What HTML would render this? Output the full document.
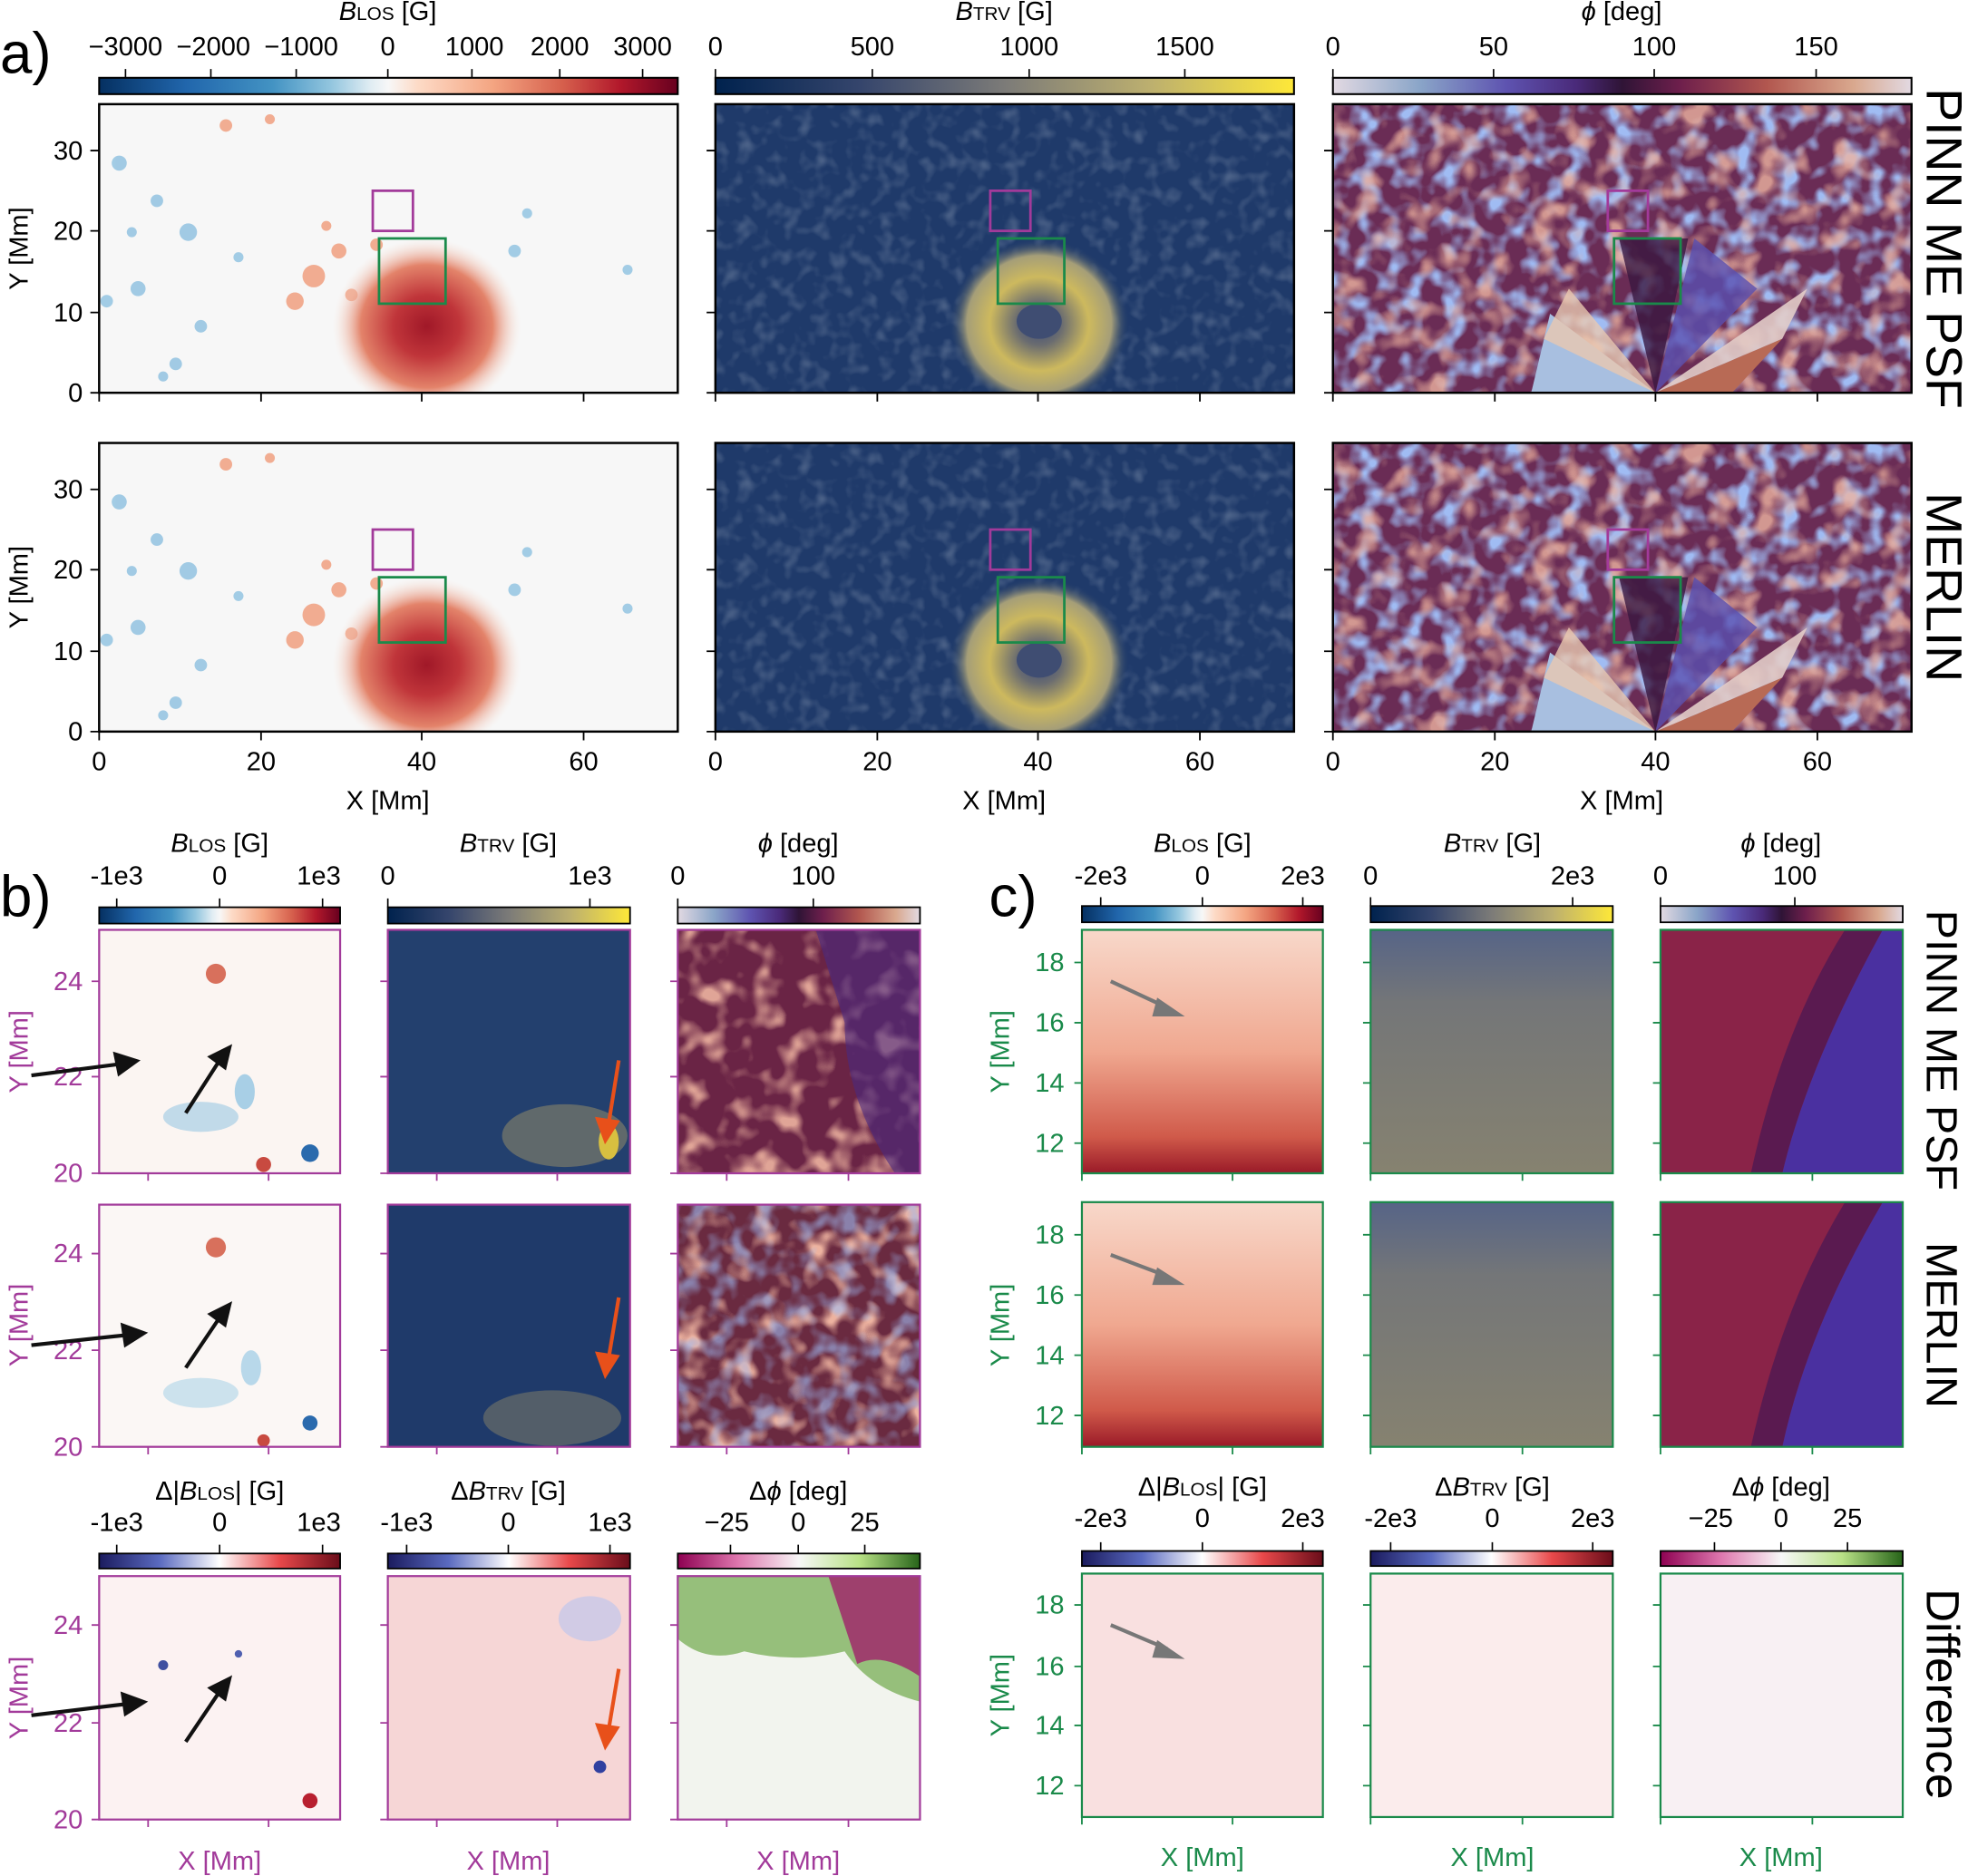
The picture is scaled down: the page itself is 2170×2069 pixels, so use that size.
<!DOCTYPE html>
<html><head><meta charset="utf-8"><style>html,body{margin:0;padding:0;background:#fff}svg{display:block}text{font-family:"Liberation Sans","DejaVu Sans",sans-serif}</style></head><body>
<svg width="2170" height="2069" viewBox="0 0 1568 1495" xmlns="http://www.w3.org/2000/svg">
<defs>
<clipPath id="ca"><rect x="79" y="83" width="1444" height="230"/></clipPath>
<linearGradient id="rdbu"><stop offset="0" stop-color="#053061"/><stop offset=".15" stop-color="#2166ac"/><stop offset=".3" stop-color="#4393c3"/><stop offset=".4" stop-color="#92c5de"/><stop offset=".47" stop-color="#e1edf3"/><stop offset=".5" stop-color="#f7f7f7"/><stop offset=".55" stop-color="#fddbc7"/><stop offset=".68" stop-color="#f4a582"/><stop offset=".8" stop-color="#d6604d"/><stop offset=".9" stop-color="#b2182b"/><stop offset="1" stop-color="#67001f"/></linearGradient>
<linearGradient id="civ"><stop offset="0" stop-color="#00224e"/><stop offset=".25" stop-color="#35456c"/><stop offset=".5" stop-color="#7c7b78"/><stop offset=".75" stop-color="#bcaf6f"/><stop offset="1" stop-color="#fee838"/></linearGradient>
<linearGradient id="twi"><stop offset="0" stop-color="#e2d9e2"/><stop offset=".15" stop-color="#8aa5c8"/><stop offset=".3" stop-color="#5e53b0"/><stop offset=".42" stop-color="#4a2a7a"/><stop offset=".5" stop-color="#2f1436"/><stop offset=".6" stop-color="#6e1f4c"/><stop offset=".75" stop-color="#b2574f"/><stop offset=".9" stop-color="#d9a88e"/><stop offset="1" stop-color="#e2d9e2"/></linearGradient>
<linearGradient id="bwr"><stop offset="0" stop-color="#1b1b5e"/><stop offset=".25" stop-color="#5a6ac0"/><stop offset=".5" stop-color="#ffffff"/><stop offset=".75" stop-color="#e8484a"/><stop offset="1" stop-color="#6a0d1a"/></linearGradient>
<linearGradient id="piyg"><stop offset="0" stop-color="#8e0152"/><stop offset=".25" stop-color="#de77ae"/><stop offset=".5" stop-color="#f7f7f7"/><stop offset=".75" stop-color="#b8e186"/><stop offset="1" stop-color="#276419"/></linearGradient>
<radialGradient id="spotLos" cx=".5" cy=".5" r=".5"><stop offset="0" stop-color="#a01828"/><stop offset=".35" stop-color="#c0353a"/><stop offset=".7" stop-color="#e3836a"/><stop offset="1" stop-color="#f7e0d4" stop-opacity="0"/></radialGradient>
<radialGradient id="spotTrv" cx=".5" cy=".5" r=".5"><stop offset="0" stop-color="#3a4a78"/><stop offset=".25" stop-color="#6a6c70"/><stop offset=".55" stop-color="#cdb95e"/><stop offset=".8" stop-color="#a59e78"/><stop offset="1" stop-color="#1f3a6a" stop-opacity="0"/></radialGradient>
<linearGradient id="cLos" x1="0" y1="0" x2="0" y2="1"><stop offset="0" stop-color="#f8d8ca"/><stop offset=".5" stop-color="#f0a890"/><stop offset=".85" stop-color="#d05a4a"/><stop offset="1" stop-color="#9a1a28"/></linearGradient>
<linearGradient id="cTrv" x1="0" y1="0" x2="0" y2="1"><stop offset="0" stop-color="#566487"/><stop offset=".3" stop-color="#747678"/><stop offset="1" stop-color="#868270"/></linearGradient>
<filter id="noise" x="0" y="0" width="100%" height="100%"><feTurbulence type="fractalNoise" baseFrequency="0.06" numOctaves="2" seed="3"/><feColorMatrix type="matrix" values="0 0 0 0 0.35  0 0 0 0 0.5  0 0 0 0 0.9  0 0 3.5 0 -1.6"/></filter>
<filter id="noise2" x="0" y="0" width="100%" height="100%"><feTurbulence type="fractalNoise" baseFrequency="0.05" numOctaves="2" seed="9"/><feColorMatrix type="matrix" values="0 0 0 0 0.85  0 0 0 0 0.45  0 0 0 0 0.35  0 0 3.5 0 -1.7"/></filter>
<filter id="noiseT" x="0" y="0" width="100%" height="100%"><feTurbulence type="fractalNoise" baseFrequency="0.08" numOctaves="2" seed="5"/><feColorMatrix type="matrix" values="0 0 0 0 0.45  0 0 0 0 0.52  0 0 0 0 0.62  0 0 2.5 0 -1.2"/></filter>
</defs>

<!-- ===== a) ===== -->
<text x="0" y="58" font-size="46">a)</text>
<rect x="79" y="62" width="461" height="13" fill="url(#rdbu)" stroke="#000" stroke-width="1.5"/>
<rect x="570" y="62" width="461" height="13" fill="url(#civ)" stroke="#000" stroke-width="1.5"/>
<rect x="1062" y="62" width="461" height="13" fill="url(#twi)" stroke="#000" stroke-width="1.5"/>
<g stroke="#000" stroke-width="1.2">
<path d="M100 55v7M168 55v7M236 55v7M309 55v7M376 55v7M446 55v7M512 55v7M570 55v7M695 55v7M820 55v7M944 55v7M1062 55v7M1190 55v7M1318 55v7M1447 55v7"/>
</g>
<g font-size="21" text-anchor="middle">
<text x="100" y="44">−3000</text><text x="170" y="44">−2000</text><text x="240" y="44">−1000</text><text x="309" y="44">0</text><text x="378" y="44">1000</text><text x="446" y="44">2000</text><text x="512" y="44">3000</text>
<text x="570" y="44">0</text><text x="695" y="44">500</text><text x="820" y="44">1000</text><text x="944" y="44">1500</text>
<text x="1062" y="44">0</text><text x="1190" y="44">50</text><text x="1318" y="44">100</text><text x="1447" y="44">150</text>
</g>
<g font-size="21" text-anchor="middle">
<text x="309" y="16"><tspan font-style="italic">B</tspan><tspan font-size="15">LOS</tspan> [G]</text>
<text x="800" y="16"><tspan font-style="italic">B</tspan><tspan font-size="15">TRV</tspan> [G]</text>
<text x="1292" y="16"><tspan font-style="italic">ϕ</tspan> [deg]</text>
</g>

<g id="arow" clip-path="url(#ca)">
<rect x="79" y="83" width="461" height="230" fill="#f7f7f7"/>
<g fill="#8cc0e0" opacity=".8"><circle cx="95" cy="130" r="6"/><circle cx="125" cy="160" r="5"/><circle cx="150" cy="185" r="7"/><circle cx="110" cy="230" r="6"/><circle cx="160" cy="260" r="5"/><circle cx="140" cy="290" r="5"/><circle cx="410" cy="200" r="5"/><circle cx="500" cy="215" r="4"/><circle cx="85" cy="240" r="5"/><circle cx="105" cy="185" r="4"/><circle cx="190" cy="205" r="4"/><circle cx="420" cy="170" r="4"/><circle cx="130" cy="300" r="4"/></g>
<g fill="#f0a080" opacity=".85"><circle cx="250" cy="220" r="9"/><circle cx="235" cy="240" r="7"/><circle cx="270" cy="200" r="6"/><circle cx="180" cy="100" r="5"/><circle cx="215" cy="95" r="4"/><circle cx="300" cy="195" r="5"/><circle cx="280" cy="235" r="5"/><circle cx="260" cy="180" r="4"/></g>
<ellipse cx="340" cy="260" rx="75" ry="70" fill="url(#spotLos)"/>
<rect x="570" y="83" width="461" height="230" fill="#1f3a6a"/>
<rect x="570" y="83" width="461" height="230" filter="url(#noiseT)" opacity=".3"/>
<ellipse cx="828" cy="258" rx="72" ry="68" fill="url(#spotTrv)"/>
<ellipse cx="828" cy="256" rx="18" ry="14" fill="#3f4d72"/>
<rect x="1062" y="83" width="461" height="230" fill="#6a2c55"/>
<rect x="1062" y="83" width="461" height="230" filter="url(#noise)"/>
<rect x="1062" y="83" width="461" height="230" filter="url(#noise2)" opacity=".8"/>
<path d="M1319 313 L1220 313 L1235 250 L1319 313Z" fill="#a8bfe0"/>
<path d="M1319 313 L1230 270 L1250 230Z" fill="#e8c8b0" opacity=".8"/>
<path d="M1319 313 L1380 313 L1420 270 Z" fill="#b86a55"/>
<path d="M1319 313 L1420 270 L1440 230 Z" fill="#e2ccc8" opacity=".9"/>
<path d="M1319 313 L1290 190 L1345 190 Z" fill="#3a1840" opacity=".8"/>
<path d="M1319 313 L1350 190 L1400 230 Z" fill="#5a50b0" opacity=".8"/>
</g>
<use href="#arow" transform="translate(0,270)"/>
<g fill="none" stroke="#000" stroke-width="1.8">
<rect x="79" y="83" width="461" height="230"/><rect x="570" y="83" width="461" height="230"/><rect x="1062" y="83" width="461" height="230"/>
<rect x="79" y="353" width="461" height="230"/><rect x="570" y="353" width="461" height="230"/><rect x="1062" y="353" width="461" height="230"/>
</g>
<g fill="none" stroke-width="2">
<g stroke="#a23a9a"><rect x="297" y="152" width="32" height="32"/><rect x="789" y="152" width="32" height="32"/><rect x="1281" y="152" width="32" height="32"/><rect x="297" y="422" width="32" height="32"/><rect x="789" y="422" width="32" height="32"/><rect x="1281" y="422" width="32" height="32"/></g>
<g stroke="#1a8a4a"><rect x="302" y="190" width="53" height="52"/><rect x="795" y="190" width="53" height="52"/><rect x="1286" y="190" width="53" height="52"/><rect x="302" y="460" width="53" height="52"/><rect x="795" y="460" width="53" height="52"/><rect x="1286" y="460" width="53" height="52"/></g>
</g>
<g stroke="#000" stroke-width="1.3">
<path d="M72 313h7M72 249h7M72 184h7M72 120h7M72 583h7M72 519h7M72 454h7M72 390h7"/>
<path d="M563 313h7M563 249h7M563 184h7M563 120h7M563 583h7M563 519h7M563 454h7M563 390h7"/>
<path d="M1055 313h7M1055 249h7M1055 184h7M1055 120h7M1055 583h7M1055 519h7M1055 454h7M1055 390h7"/>
<path d="M79 313v7M208 313v7M336 313v7M465 313v7M570 313v7M699 313v7M827 313v7M956 313v7M1062 313v7M1191 313v7M1319 313v7M1448 313v7"/>
<path d="M79 583v7M208 583v7M336 583v7M465 583v7M570 583v7M699 583v7M827 583v7M956 583v7M1062 583v7M1191 583v7M1319 583v7M1448 583v7"/>
</g>
<g font-size="21" text-anchor="end">
<text x="66" y="320">0</text><text x="66" y="256">10</text><text x="66" y="191">20</text><text x="66" y="127">30</text>
<text x="66" y="590">0</text><text x="66" y="526">10</text><text x="66" y="461">20</text><text x="66" y="397">30</text>
</g>
<g font-size="21" text-anchor="middle">
<text x="79" y="614">0</text><text x="208" y="614">20</text><text x="336" y="614">40</text><text x="465" y="614">60</text>
<text x="570" y="614">0</text><text x="699" y="614">20</text><text x="827" y="614">40</text><text x="956" y="614">60</text>
<text x="1062" y="614">0</text><text x="1191" y="614">20</text><text x="1319" y="614">40</text><text x="1448" y="614">60</text>
<text x="309" y="645">X [Mm]</text><text x="800" y="645">X [Mm]</text><text x="1292" y="645">X [Mm]</text>
<text transform="translate(22,198) rotate(-90)">Y [Mm]</text>
<text transform="translate(22,468) rotate(-90)">Y [Mm]</text>
</g>
<g text-anchor="middle">
<text transform="translate(1535,198) rotate(90)" font-size="40">PINN ME PSF</text>
<text transform="translate(1535,468) rotate(90)" font-size="40">MERLIN</text>
<text transform="translate(1535,837) rotate(90)" font-size="35">PINN ME PSF</text>
<text transform="translate(1535,1056) rotate(90)" font-size="35">MERLIN</text>
<text transform="translate(1535,1350) rotate(90)" font-size="37">Difference</text>
</g>

<!-- ===== b) c) ===== -->
<text x="0" y="730" font-size="46">b)</text>
<text x="788" y="730" font-size="46">c)</text>
<rect x="79" y="723" width="192" height="13" fill="url(#rdbu)" stroke="#000" stroke-width="1.3"/>
<rect x="309" y="723" width="193" height="13" fill="url(#civ)" stroke="#000" stroke-width="1.3"/>
<rect x="540" y="723" width="193" height="13" fill="url(#twi)" stroke="#000" stroke-width="1.3"/>
<rect x="862" y="722" width="192" height="13" fill="url(#rdbu)" stroke="#000" stroke-width="1.3"/>
<rect x="1092" y="722" width="193" height="13" fill="url(#civ)" stroke="#000" stroke-width="1.3"/>
<rect x="1323" y="722" width="193" height="13" fill="url(#twi)" stroke="#000" stroke-width="1.3"/>
<rect x="79" y="1238" width="192" height="12" fill="url(#bwr)" stroke="#000" stroke-width="1.3"/>
<rect x="309" y="1238" width="193" height="12" fill="url(#bwr)" stroke="#000" stroke-width="1.3"/>
<rect x="540" y="1238" width="193" height="12" fill="url(#piyg)" stroke="#000" stroke-width="1.3"/>
<rect x="862" y="1236" width="192" height="12" fill="url(#bwr)" stroke="#000" stroke-width="1.3"/>
<rect x="1092" y="1236" width="193" height="12" fill="url(#bwr)" stroke="#000" stroke-width="1.3"/>
<rect x="1323" y="1236" width="193" height="12" fill="url(#piyg)" stroke="#000" stroke-width="1.3"/>
<g stroke="#000" stroke-width="1.2">
<path d="M93 716v7M175 716v7M257 716v7M309 716v7M470 716v7M540 716v7M648 716v7M877 715v7M958 715v7M1038 715v7M1092 715v7M1253 715v7M1323 715v7M1430 715v7"/>
<path d="M93 1231v7M175 1231v7M257 1231v7M324 1231v7M405 1231v7M486 1231v7M582 1231v7M636 1231v7M689 1231v7M877 1229v7M958 1229v7M1038 1229v7M1108 1229v7M1189 1229v7M1269 1229v7M1366 1229v7M1419 1229v7M1472 1229v7"/>
</g>
<g font-size="21" text-anchor="middle">
<text x="93" y="705">-1e3</text><text x="175" y="705">0</text><text x="254" y="705">1e3</text>
<text x="309" y="705">0</text><text x="470" y="705">1e3</text>
<text x="540" y="705">0</text><text x="648" y="705">100</text>
<text x="877" y="705">-2e3</text><text x="958" y="705">0</text><text x="1038" y="705">2e3</text>
<text x="1092" y="705">0</text><text x="1253" y="705">2e3</text>
<text x="1323" y="705">0</text><text x="1430" y="705">100</text>
<text x="93" y="1220">-1e3</text><text x="175" y="1220">0</text><text x="254" y="1220">1e3</text>
<text x="324" y="1220">-1e3</text><text x="405" y="1220">0</text><text x="486" y="1220">1e3</text>
<text x="579" y="1220">−25</text><text x="636" y="1220">0</text><text x="689" y="1220">25</text>
<text x="877" y="1217">-2e3</text><text x="958" y="1217">0</text><text x="1038" y="1217">2e3</text>
<text x="1108" y="1217">-2e3</text><text x="1189" y="1217">0</text><text x="1269" y="1217">2e3</text>
<text x="1363" y="1217">−25</text><text x="1419" y="1217">0</text><text x="1472" y="1217">25</text>
<text x="175" y="679"><tspan font-style="italic">B</tspan><tspan font-size="15">LOS</tspan> [G]</text>
<text x="405" y="679"><tspan font-style="italic">B</tspan><tspan font-size="15">TRV</tspan> [G]</text>
<text x="636" y="679"><tspan font-style="italic">ϕ</tspan> [deg]</text>
<text x="958" y="679"><tspan font-style="italic">B</tspan><tspan font-size="15">LOS</tspan> [G]</text>
<text x="1189" y="679"><tspan font-style="italic">B</tspan><tspan font-size="15">TRV</tspan> [G]</text>
<text x="1419" y="679"><tspan font-style="italic">ϕ</tspan> [deg]</text>
<text x="175" y="1195">Δ|<tspan font-style="italic">B</tspan><tspan font-size="15">LOS</tspan>| [G]</text>
<text x="405" y="1195">Δ<tspan font-style="italic">B</tspan><tspan font-size="15">TRV</tspan> [G]</text>
<text x="636" y="1195">Δ<tspan font-style="italic">ϕ</tspan> [deg]</text>
<text x="958" y="1192">Δ|<tspan font-style="italic">B</tspan><tspan font-size="15">LOS</tspan>| [G]</text>
<text x="1189" y="1192">Δ<tspan font-style="italic">B</tspan><tspan font-size="15">TRV</tspan> [G]</text>
<text x="1419" y="1192">Δ<tspan font-style="italic">ϕ</tspan> [deg]</text>
</g>

<!-- b panels -->
<rect x="79" y="741" width="192" height="194" fill="#fbf5f2"/>
<g fill="#a8cfe6"><ellipse cx="160" cy="890" rx="30" ry="12" opacity=".7"/><ellipse cx="195" cy="870" rx="8" ry="14"/></g>
<circle cx="247" cy="919" r="7" fill="#2a6aad"/><circle cx="172" cy="776" r="8" fill="#d8705c"/><circle cx="210" cy="928" r="6" fill="#c84a40"/>
<rect x="309" y="741" width="193" height="194" fill="#23406e"/>
<ellipse cx="450" cy="905" rx="50" ry="25" fill="#7a7a6a" opacity=".7"/><ellipse cx="485" cy="910" rx="8" ry="14" fill="#d8c040"/>
<rect x="540" y="741" width="193" height="194" fill="#6a2445"/>
<rect x="540" y="741" width="193" height="194" filter="url(#noise2)" opacity=".9"/>
<path d="M650 741h83v194h-20q-40-60-40-120z" fill="#4a2a80" opacity=".6"/>
<rect x="79" y="960" width="192" height="193" fill="#fbf7f5"/>
<g fill="#b8d8ea"><ellipse cx="160" cy="1110" rx="30" ry="12" opacity=".7"/><ellipse cx="200" cy="1090" rx="8" ry="14"/></g>
<circle cx="247" cy="1134" r="6" fill="#2a6aad"/><circle cx="172" cy="994" r="8" fill="#d8705c"/><circle cx="210" cy="1148" r="5" fill="#c84a40"/>
<rect x="309" y="960" width="193" height="193" fill="#1f3a6a"/>
<ellipse cx="440" cy="1130" rx="55" ry="22" fill="#6a6e6a" opacity=".7"/>
<rect x="540" y="960" width="193" height="193" fill="#6a2a40"/>
<rect x="540" y="960" width="193" height="193" filter="url(#noise2)"/>
<rect x="540" y="960" width="193" height="193" filter="url(#noise)" opacity=".6"/>
<rect x="79" y="1256" width="192" height="194" fill="#fcf2f2"/>
<circle cx="247" cy="1435" r="6" fill="#b82030"/><circle cx="130" cy="1327" r="4" fill="#4050a0"/><circle cx="190" cy="1318" r="3" fill="#5060b0"/>
<rect x="309" y="1256" width="193" height="194" fill="#f6d6d6"/>
<ellipse cx="470" cy="1290" rx="25" ry="18" fill="#c8c8e8" opacity=".8"/><circle cx="478" cy="1408" r="5" fill="#3040a0"/>
<rect x="540" y="1256" width="193" height="194" fill="#f2f4ee"/>
<path d="M540 1256h193v100q-40-10-60-40q-40 10-80 0q-30 10-53 -10z" fill="#6fa84a" opacity=".7"/>
<path d="M660 1256h73v80q-30-20-50-10z" fill="#a0206a" opacity=".8"/>

<!-- c panels -->
<rect x="862" y="741" width="192" height="194" fill="url(#cLos)"/>
<rect x="1092" y="741" width="193" height="194" fill="url(#cTrv)"/>
<rect x="1323" y="741" width="193" height="194" fill="#8a2348"/>
<path d="M1516 741V935H1420Q1440 850 1500 741Z" fill="#4a30a0"/>
<path d="M1420 935Q1440 850 1500 741H1470Q1420 820 1395 935Z" fill="#5a1a50"/>
<rect x="862" y="958" width="192" height="195" fill="url(#cLos)"/>
<rect x="1092" y="958" width="193" height="195" fill="url(#cTrv)"/>
<rect x="1323" y="958" width="193" height="195" fill="#8a2348"/>
<path d="M1516 958V1153H1420Q1440 1060 1500 958Z" fill="#4a30a0"/>
<path d="M1420 1153Q1440 1060 1500 958H1470Q1420 1040 1395 1153Z" fill="#5a1a50"/>
<rect x="862" y="1254" width="192" height="194" fill="#f9e0e0"/>
<rect x="1092" y="1254" width="193" height="194" fill="#fbecec"/>
<rect x="1323" y="1254" width="193" height="194" fill="#f8f0f3"/>

<g fill="none" stroke="#a23a9a" stroke-width="1.6">
<rect x="79" y="741" width="192" height="194"/><rect x="309" y="741" width="193" height="194"/><rect x="540" y="741" width="193" height="194"/>
<rect x="79" y="960" width="192" height="193"/><rect x="309" y="960" width="193" height="193"/><rect x="540" y="960" width="193" height="193"/>
<rect x="79" y="1256" width="192" height="194"/><rect x="309" y="1256" width="193" height="194"/><rect x="540" y="1256" width="193" height="194"/>
</g>
<g fill="none" stroke="#1a8a4a" stroke-width="1.6">
<rect x="862" y="741" width="192" height="194"/><rect x="1092" y="741" width="193" height="194"/><rect x="1323" y="741" width="193" height="194"/>
<rect x="862" y="958" width="192" height="195"/><rect x="1092" y="958" width="193" height="195"/><rect x="1323" y="958" width="193" height="195"/>
<rect x="862" y="1254" width="192" height="194"/><rect x="1092" y="1254" width="193" height="194"/><rect x="1323" y="1254" width="193" height="194"/>
</g>
<g stroke="#a23a9a" stroke-width="1.3">
<path d="M73 782h6M73 858h6M73 935h6M303 782h6M303 858h6M303 935h6M534 782h6M534 858h6M534 935h6"/>
<path d="M73 999h6M73 1076h6M73 1153h6M303 999h6M303 1076h6M303 1153h6M534 999h6M534 1076h6M534 1153h6"/>
<path d="M73 1295h6M73 1373h6M73 1450h6M303 1295h6M303 1373h6M303 1450h6M534 1295h6M534 1373h6M534 1450h6"/>
<path d="M118 935v6M214 935v6M348 935v6M444 935v6M579 935v6M676 935v6M118 1153v6M214 1153v6M348 1153v6M444 1153v6M579 1153v6M676 1153v6M118 1450v6M214 1450v6M348 1450v6M444 1450v6M579 1450v6M676 1450v6"/>
</g>
<g stroke="#1a8a4a" stroke-width="1.3">
<path d="M856 767h6M856 815h6M856 863h6M856 911h6M1086 767h6M1086 815h6M1086 863h6M1086 911h6M1317 767h6M1317 815h6M1317 863h6M1317 911h6"/>
<path d="M856 984h6M856 1032h6M856 1080h6M856 1128h6M1086 984h6M1086 1032h6M1086 1080h6M1086 1128h6M1317 984h6M1317 1032h6M1317 1080h6M1317 1128h6"/>
<path d="M856 1279h6M856 1328h6M856 1375h6M856 1423h6M1086 1279h6M1086 1328h6M1086 1375h6M1086 1423h6M1317 1279h6M1317 1328h6M1317 1375h6M1317 1423h6"/>
<path d="M862 935v6M982 935v6M1092 935v6M1213 935v6M1323 935v6M1444 935v6M862 1153v6M982 1153v6M1092 1153v6M1213 1153v6M1323 1153v6M1444 1153v6M862 1448v6M982 1448v6M1092 1448v6M1213 1448v6M1323 1448v6M1444 1448v6"/>
</g>
<g font-size="21" text-anchor="end" fill="#a23a9a">
<text x="66" y="789">24</text><text x="66" y="865">22</text><text x="66" y="942">20</text>
<text x="66" y="1006">24</text><text x="66" y="1083">22</text><text x="66" y="1160">20</text>
<text x="66" y="1302">24</text><text x="66" y="1380">22</text><text x="66" y="1457">20</text>
</g>
<g font-size="21" text-anchor="end" fill="#1a8a4a">
<text x="848" y="774">18</text><text x="848" y="822">16</text><text x="848" y="870">14</text><text x="848" y="918">12</text>
<text x="848" y="991">18</text><text x="848" y="1039">16</text><text x="848" y="1087">14</text><text x="848" y="1135">12</text>
<text x="848" y="1286">18</text><text x="848" y="1335">16</text><text x="848" y="1382">14</text><text x="848" y="1430">12</text>
</g>
<g font-size="21" text-anchor="middle" fill="#a23a9a">
<text transform="translate(22,838) rotate(-90)">Y [Mm]</text>
<text transform="translate(22,1056) rotate(-90)">Y [Mm]</text>
<text transform="translate(22,1353) rotate(-90)">Y [Mm]</text>
<text x="175" y="1490">X [Mm]</text><text x="405" y="1490">X [Mm]</text><text x="636" y="1490">X [Mm]</text>
</g>
<g font-size="21" text-anchor="middle" fill="#1a8a4a">
<text transform="translate(804,838) rotate(-90)">Y [Mm]</text>
<text transform="translate(804,1056) rotate(-90)">Y [Mm]</text>
<text transform="translate(804,1351) rotate(-90)">Y [Mm]</text>
<text x="958" y="1487">X [Mm]</text><text x="1189" y="1487">X [Mm]</text><text x="1419" y="1487">X [Mm]</text>
</g>
<g stroke="#111" stroke-width="3" fill="#111">
<path d="M25 857L95 848"/><path d="M112 845L90 838L94 858Z" stroke="none"/>
<path d="M148 887L175 845"/><path d="M185 832L165 842L180 853Z" stroke="none"/>
<path d="M25 1072L100 1064"/><path d="M118 1062L96 1054L99 1074Z" stroke="none"/>
<path d="M148 1090L175 1050"/><path d="M185 1037L165 1047L180 1058Z" stroke="none"/>
<path d="M25 1367L100 1358"/><path d="M118 1356L96 1348L99 1368Z" stroke="none"/>
<path d="M148 1388L175 1348"/><path d="M185 1335L165 1345L180 1356Z" stroke="none"/>
</g>
<g stroke="#e8501a" stroke-width="3" fill="#e8501a">
<path d="M493 845L485 895"/><path d="M482 912L474 890L494 893Z" stroke="none"/>
<path d="M493 1034L485 1082"/><path d="M482 1099L474 1077L494 1080Z" stroke="none"/>
<path d="M493 1330L485 1378"/><path d="M482 1395L474 1373L494 1376Z" stroke="none"/>
</g>
<g stroke="#777" stroke-width="3" fill="#777">
<path d="M885 782L930 803"/><path d="M944 810L922 795L918 810Z" stroke="none"/>
<path d="M885 1000L930 1017"/><path d="M944 1024L922 1010L918 1024Z" stroke="none"/>
<path d="M885 1295L930 1314"/><path d="M944 1322L922 1307L918 1321Z" stroke="none"/>
</g>
</svg>
</body></html>
